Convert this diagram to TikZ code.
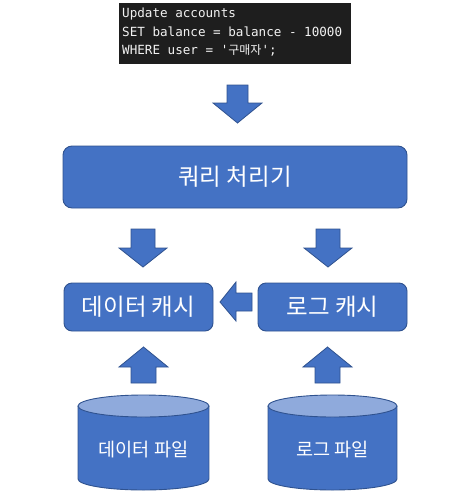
\documentclass[tikz,border=0pt]{standalone}
\usepackage{fontspec}
\setmainfont{Noto Sans CJK KR}
\newfontfamily\krfont{Noto Sans CJK KR}
\setmonofont{DejaVu Sans Mono}
\definecolor{boxblue}{HTML}{4472C4}
\definecolor{boxline}{HTML}{2F528F}
\definecolor{toplight}{HTML}{8FAADC}
\definecolor{codebg}{HTML}{1E1E1E}
\definecolor{codefg}{HTML}{F2F2F2}
\begin{document}
\begin{tikzpicture}[x=1pt,y=-1pt,
  bluebox/.style={draw=boxline,line width=0.9pt,fill=boxblue,rounded corners=8pt,text=white,inner sep=0pt},
  blockarrow/.style={draw=boxline,line width=0.8pt,fill=boxblue,line join=miter},
  cylbody/.style={fill=boxblue},
  cylline/.style={draw=boxline,line width=0.9pt},
  cyltop/.style={draw=boxline,line width=0.9pt,fill=toplight},
  codebox/.style={fill=codebg,inner sep=0pt},
  codeline/.style={anchor=west,text=codefg,inner sep=0pt,font=\fontsize{12.6}{14}\ttfamily},
  cyltext/.style={text=white,font=\fontsize{18.6}{22}\selectfont},
  bigtext/.style={font=\fontsize{23.5}{27}\selectfont}
]
\useasboundingbox (0,0) rectangle (474,499);

% code box
\node[codebox,minimum width=232pt,minimum height=61pt] (code) at (235,33) {};
\node[codeline] (l1) at (122,14) {Update accounts};
\node[codeline] (l2) at (122,32) {SET balance = balance - 10000};
\node[codeline] (l3) at (122,50) {WHERE user = '{\krfont\fontsize{12}{14}\selectfont 구매자}';};

% top arrow
\path[blockarrow] (227,85) -- (248,85) -- (248,103) -- (262,103) -- (237.5,123) -- (213,103) -- (227,103) -- cycle;

% query processor
\node[bluebox,bigtext,minimum width=344pt,minimum height=62pt,rounded corners=9pt] (qp) at (235,177) {쿼리 처리기};

% down arrows
\path[blockarrow] (131,229) -- (155,229) -- (155,248) -- (167,248) -- (143,267) -- (119,248) -- (131,248) -- cycle;
\path[blockarrow] (316,229) -- (340,229) -- (340,248) -- (352,248) -- (328,267) -- (304,248) -- (316,248) -- cycle;

% caches
\node[bluebox,bigtext,minimum width=149pt,minimum height=48pt] (dc) at (138.5,307) {데이터 캐시};
\node[bluebox,bigtext,minimum width=149pt,minimum height=48pt] (lc) at (332.5,307) {로그 캐시};

% left arrow
\path[blockarrow] (252,293) -- (252,311) -- (236,311) -- (236,321) -- (220,302) -- (236,282) -- (236,293) -- cycle;

% up arrows
\path[blockarrow] (131,383) -- (156,383) -- (156,367) -- (168,367) -- (143.5,347) -- (119,367) -- (131,367) -- cycle;
\path[blockarrow] (315,383) -- (340,383) -- (340,367) -- (352,367) -- (327.5,347) -- (303,367) -- (315,367) -- cycle;

% cylinders
\fill[cylbody] (78,406) rectangle (209,479);
\fill[cylbody] (143.5,479) ellipse[x radius=65.5,y radius=11];
\draw[cylline] (78,406) -- (78,479) arc[start angle=180,end angle=0,x radius=65.5,y radius=11] -- (209,406);
\draw[cyltop] (143.5,406) ellipse[x radius=65.5,y radius=11];
\node[cyltext] (df) at (143.5,450) {데이터 파일};

\fill[cylbody] (268,406) rectangle (397,479);
\fill[cylbody] (332.5,479) ellipse[x radius=64.5,y radius=11];
\draw[cylline] (268,406) -- (268,479) arc[start angle=180,end angle=0,x radius=64.5,y radius=11] -- (397,406);
\draw[cyltop] (332.5,406) ellipse[x radius=64.5,y radius=11];
\node[cyltext] (lf) at (332.5,450) {로그 파일};
\end{tikzpicture}
\end{document}
